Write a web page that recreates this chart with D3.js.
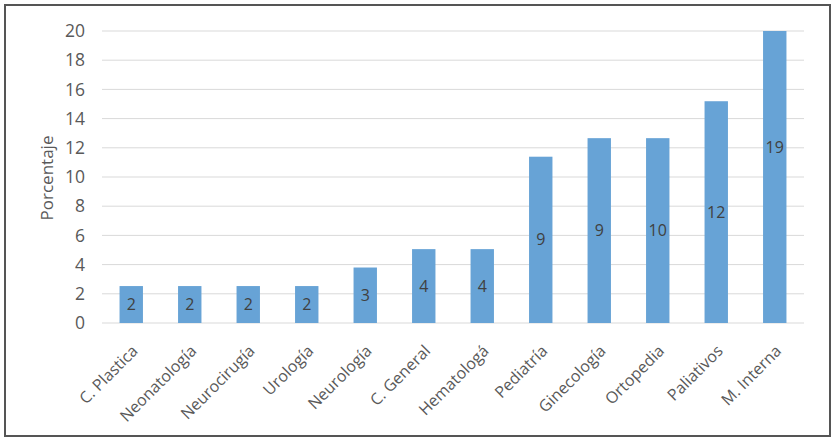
<!DOCTYPE html>
<html>
<head>
<meta charset="utf-8">
<script src="https://cdn.jsdelivr.net/npm/d3@7"></script>
<style>
  body { margin: 0; background: #fff; }
  svg { display: block; font-family: "Open Sans", "Noto Sans", sans-serif; }
</style>
</head>
<body>
<div id="chart"></div>
<script>
const categories = ["C. Plastica", "Neonatología", "Neurocirugía", "Urología", "Neurología", "C. General",
  "Hematologá", "Pediatría", "Ginecología", "Ortopedia", "Paliativos", "M. Interna"];
const percentages = [2.53, 2.53, 2.53, 2.53, 3.8, 5.06, 5.06, 11.39, 12.66, 12.66, 15.19, 24.05];
const counts = [2, 2, 2, 2, 3, 4, 4, 9, 9, 10, 12, 19];
const yTicks = [0, 2, 4, 6, 8, 10, 12, 14, 16, 18, 20];

const W = 835, H = 441;
const margin = { top: 31, right: 31, bottom: 118, left: 102 };
const width = W - margin.left - margin.right;
const height = H - margin.top - margin.bottom;

const svg = d3.select("#chart").append("svg")
  .attr("width", W)
  .attr("height", H);

svg.append("rect")
  .attr("x", 5).attr("y", 5)
  .attr("width", W - 10).attr("height", H - 10)
  .attr("fill", "#fff")
  .attr("stroke", "#555")
  .attr("stroke-width", 2);

const g = svg.append("g").attr("transform", `translate(${margin.left},${margin.top})`);

const x = d3.scaleBand().domain(categories).range([0, width]).paddingInner(0.6).paddingOuter(0.3);
const y = d3.scaleLinear().domain([0, 20]).range([height, 0]);

// grid
g.selectAll(".grid")
  .data(yTicks)
  .join("line")
  .attr("class", "grid")
  .attr("x1", 0).attr("x2", width)
  .attr("y1", d => y(d)).attr("y2", d => y(d))
  .attr("stroke", "#d9d9d9")
  .attr("stroke-width", 1);

// y axis
g.append("g")
  .call(d3.axisLeft(y).tickValues(yTicks).tickSize(0).tickPadding(17))
  .call(a => a.select(".domain").remove())
  .selectAll("text")
  .style("font-size", "17.5px")
  .style("font-family", "'Open Sans', sans-serif")
  .style("fill", "#595959");

svg.append("text")
  .attr("transform", `translate(53,${margin.top + height / 2 + 1}) rotate(-90)`)
  .attr("text-anchor", "middle")
  .style("font-size", "17px")
  .style("fill", "#595959")
  .text("Porcentaje");

// bars (clipped at axis max)
svg.append("clipPath").attr("id", "plot-clip")
  .append("rect").attr("x", 0).attr("y", 0).attr("width", width).attr("height", height);

const data = categories.map((c, i) => ({ cat: c, pct: percentages[i], n: counts[i] }));

g.append("g").attr("clip-path", "url(#plot-clip)")
  .selectAll("rect")
  .data(data)
  .join("rect")
  .attr("x", d => x(d.cat))
  .attr("y", d => y(d.pct))
  .attr("width", x.bandwidth())
  .attr("height", d => height - y(d.pct))
  .attr("fill", "#67a3d6");

g.selectAll(".lbl")
  .data(data)
  .join("text")
  .attr("class", "lbl")
  .attr("x", d => x(d.cat) + x.bandwidth() / 2)
  .attr("y", d => y(d.pct / 2))
  .attr("dy", "0.35em")
  .attr("text-anchor", "middle")
  .style("font-size", "16px")
  .style("fill", "#404040")
  .text(d => d.n);

// x axis labels
g.append("g")
  .attr("transform", `translate(0,${height})`)
  .call(d3.axisBottom(x).tickSize(0).tickPadding(0))
  .call(a => a.select(".domain").remove())
  .selectAll("text")
  .attr("text-anchor", "end")
  .attr("transform", d => `translate(${x.bandwidth() / 2 - 8},25) rotate(-45)`)
  .attr("dy", "0.35em")
  .attr("y", 0)
  .style("font-size", "16px")
  .style("font-family", "'Open Sans', sans-serif")
  .style("fill", "#595959");
</script>
</body>
</html>
